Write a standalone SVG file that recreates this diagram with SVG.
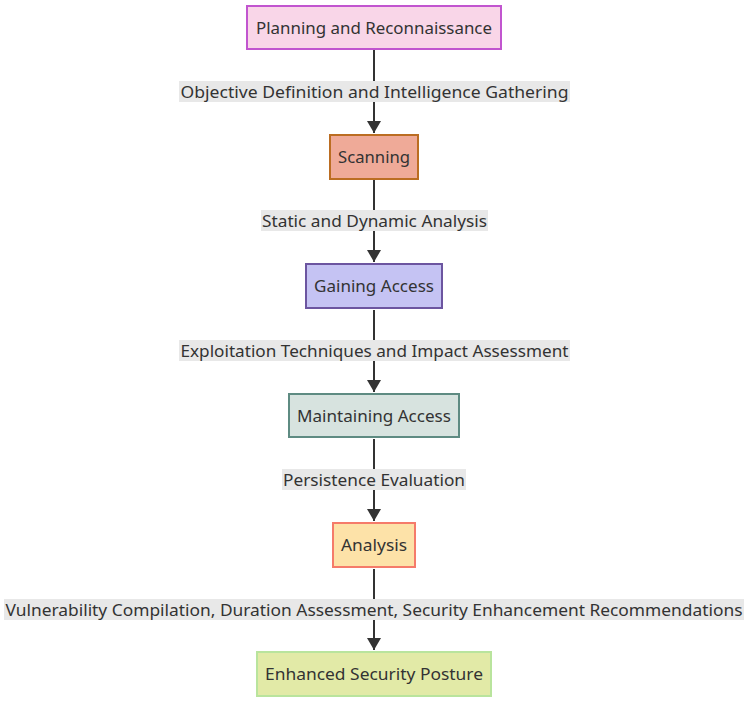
<svg xmlns="http://www.w3.org/2000/svg" width="750" height="701" viewBox="0 0 750 701">
<style>
text{font-family:"Noto Sans","DejaVu Sans",sans-serif;font-size:16px;fill:#333;text-anchor:middle;dominant-baseline:central}
.e{stroke:#333;stroke-width:2;fill:none}
.lb{fill:#e8e8e8}
.n rect{stroke-width:2}
</style>
<defs>
<marker id="ah" markerWidth="14" markerHeight="14" refX="12" refY="7" orient="auto" markerUnits="userSpaceOnUse">
<path d="M0,0 L12,7 L0,14 Z" fill="#333"/>
</marker>
</defs>
<rect width="750" height="701" fill="#fff"/>
<g id="connectors">
<path class="e" d="M374,50 V133" marker-end="url(#ah)"/>
<path class="e" d="M374,180 V262" marker-end="url(#ah)"/>
<path class="e" d="M374,310 V392" marker-end="url(#ah)"/>
<path class="e" d="M374,439 V521" marker-end="url(#ah)"/>
<path class="e" d="M374,569 V650" marker-end="url(#ah)"/>
<rect class="lb" x="179" y="81" width="391" height="21"/>
<text x="374.5" y="91.5" textLength="388" lengthAdjust="spacingAndGlyphs">Objective Definition and Intelligence Gathering</text>
<rect class="lb" x="261" y="210" width="227" height="21"/>
<text x="374.5" y="220.5" textLength="225" lengthAdjust="spacingAndGlyphs">Static and Dynamic Analysis</text>
<rect class="lb" x="179" y="340" width="391" height="21"/>
<text x="374.5" y="350.5" textLength="388" lengthAdjust="spacingAndGlyphs">Exploitation Techniques and Impact Assessment</text>
<rect class="lb" x="282" y="469" width="184" height="21"/>
<text x="374" y="479.5" textLength="182" lengthAdjust="spacingAndGlyphs">Persistence Evaluation</text>
<rect class="lb" x="4" y="599" width="740" height="21"/>
<text x="374" y="609.5" textLength="737" lengthAdjust="spacingAndGlyphs">Vulnerability Compilation, Duration Assessment, Security Enhancement Recommendations</text>
</g>
<g id="n1" class="n"><rect x="247" y="6" width="254" height="43" fill="#f9d6e8" stroke="#c155cf"/><text x="374" y="27.5" textLength="236" lengthAdjust="spacingAndGlyphs">Planning and Reconnaissance</text></g>
<g id="n2" class="n"><rect x="330" y="135" width="88" height="44" fill="#efaa98" stroke="#bb6d22"/><text x="374" y="157" textLength="72" lengthAdjust="spacingAndGlyphs">Scanning</text></g>
<g id="n3" class="n"><rect x="306" y="264" width="136" height="44" fill="#c5c3f3" stroke="#6c55a0"/><text x="374" y="286" textLength="120" lengthAdjust="spacingAndGlyphs">Gaining Access</text></g>
<g id="n4" class="n"><rect x="289" y="394" width="170" height="43" fill="#d7e3df" stroke="#5e8b82"/><text x="374" y="416" textLength="154" lengthAdjust="spacingAndGlyphs">Maintaining Access</text></g>
<g id="n5" class="n"><rect x="333" y="523" width="82" height="44" fill="#fde2a8" stroke="#f57b6a"/><text x="374" y="545" textLength="66" lengthAdjust="spacingAndGlyphs">Analysis</text></g>
<g id="n6" class="n"><rect x="257" y="652" width="234" height="44" fill="#e2eaa7" stroke="#b9e49d"/><text x="374" y="674" textLength="218" lengthAdjust="spacingAndGlyphs">Enhanced Security Posture</text></g>
</svg>
